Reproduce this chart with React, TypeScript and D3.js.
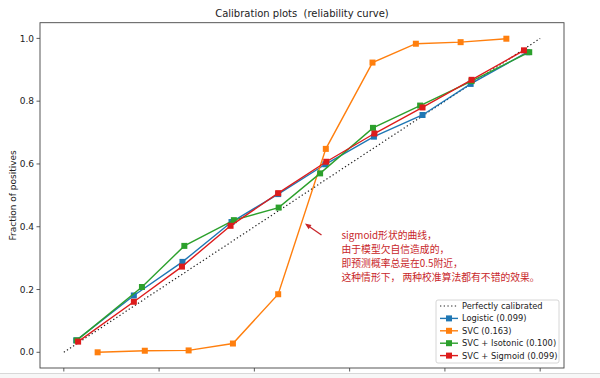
import React from "react";
import * as d3 from "d3";

const title = "Calibration plots  (reliability curve)";
const yLabel = "Fraction of positives";
const yTicks = [0.0, 0.2, 0.4, 0.6, 0.8, 1.0];
const xTicks = [0.0, 0.2, 0.4, 0.6, 0.8, 1.0];

const seriesNames = ["Logistic (0.099)", "SVC (0.163)", "SVC + Isotonic (0.100)", "SVC + Sigmoid (0.099)"];
const seriesColors = ["#1f77b4", "#ff7f0e", "#2ca02c", "#dd1c1c"];

const xLogistic = [0.026, 0.147, 0.249, 0.352, 0.45, 0.549, 0.651, 0.753, 0.854, 0.973];
const yLogistic = [0.038, 0.181, 0.288, 0.415, 0.504, 0.599, 0.687, 0.756, 0.855, 0.956];

const xSVC = [0.071, 0.17, 0.262, 0.355, 0.45, 0.55, 0.648, 0.739, 0.833, 0.929];
const ySVC = [0.0, 0.005, 0.006, 0.028, 0.185, 0.648, 0.923, 0.983, 0.988, 0.999];

const xIsotonic = [0.027, 0.164, 0.253, 0.357, 0.451, 0.538, 0.649, 0.748, 0.856, 0.977];
const yIsotonic = [0.038, 0.208, 0.339, 0.421, 0.461, 0.57, 0.715, 0.786, 0.864, 0.956];

const xSigmoid = [0.03, 0.147, 0.248, 0.35, 0.45, 0.551, 0.652, 0.753, 0.856, 0.966];
const ySigmoid = [0.034, 0.161, 0.273, 0.403, 0.507, 0.607, 0.697, 0.78, 0.868, 0.962];

const annotationLines = [
  "sigmoid形状的曲线，",
  "由于模型欠自信造成的，",
  "即预测概率总是在0.5附近，",
  "这种情形下， 两种校准算法都有不错的效果。",
];

const FONT = "DejaVu Sans, sans-serif";

export default function App() {
  const left = 40, right = 564, top = 22.7, bottom = 368;
  const x = d3.scaleLinear().domain([-0.05, 1.05]).range([left, right]);
  const y = d3.scaleLinear().domain([-0.05, 1.05]).range([bottom, top]);
  const line = d3.line<[number, number]>().x((d) => x(d[0])).y((d) => y(d[1]));

  const series = [
    { xs: xLogistic, ys: yLogistic },
    { xs: xSVC, ys: ySVC },
    { xs: xIsotonic, ys: yIsotonic },
    { xs: xSigmoid, ys: ySigmoid },
  ];

  const ms = 6;
  const legX = 436, legY = 300, legW = 123, legH = 63;
  const rowY = (i: number) => legY + 6 + i * 12.4;
  const annY = [235.5, 249.5, 263.5, 278];

  return (
    <div style={{ position: "fixed", left: 0, top: 0, width: 600, height: 378, background: "#fff" }}>
      <svg width={600} height={378} style={{ display: "block" }} fontFamily={FONT}>
        <rect x={0} y={0} width={600} height={378} fill="#fff" />
        <line x1={0} x2={600} y1={373.5} y2={373.5} stroke="#d8d8d8" strokeWidth={1} />
        <rect x={0} y={374} width={600} height={4} fill="#f7f7f7" />
        {/* title */}
        <text x={(left + right) / 2} y={17} textAnchor="middle" fontSize={10} fill="#222" style={{ whiteSpace: "pre" }}>
          {title}
        </text>
        {/* y label */}
        <text transform={`translate(16,${(top + bottom) / 2}) rotate(-90)`} textAnchor="middle" fontSize={9} fill="#222">
          {yLabel}
        </text>
        {/* y ticks */}
        {yTicks.map((t) => (
          <g key={"y" + t}>
            <line x1={left - 3.5} x2={left} y1={y(t)} y2={y(t)} stroke="#333" strokeWidth={0.8} />
            <text x={left - 6} y={y(t)} dy="0.35em" textAnchor="end" fontSize={9} fill="#222">
              {t.toFixed(1)}
            </text>
          </g>
        ))}
        {/* x ticks */}
        {xTicks.map((t) => (
          <line key={"x" + t} x1={x(t)} x2={x(t)} y1={bottom} y2={bottom + 3.5} stroke="#333" strokeWidth={0.8} />
        ))}
        {/* perfect line */}
        <path d={line([[0, 0], [1, 1]]) || ""} fill="none" stroke="#222" strokeWidth={1.2} strokeDasharray="1.3,2.4" />
        {series.map((s, i) => {
          const pts: [number, number][] = s.xs.map((v, j) => [v, s.ys[j]]);
          return (
            <g key={i}>
              <path d={line(pts) || ""} fill="none" stroke={seriesColors[i]} strokeWidth={1.4} />
              {pts.map((p, j) => (
                <rect key={j} x={x(p[0]) - ms / 2} y={y(p[1]) - ms / 2} width={ms} height={ms} fill={seriesColors[i]} />
              ))}
            </g>
          );
        })}
        {/* axes frame */}
        <rect x={left} y={top} width={right - left} height={bottom - top} fill="none" stroke="#444" strokeWidth={0.9} />
        {/* annotation arrow */}
        <line x1={321.5} y1={235} x2={307} y2={225} stroke="#c8262a" strokeWidth={1.3} />
        <path d="M305,223.6 L311.5,225 L308.6,229.2 Z" fill="#c8262a" />
        {annotationLines.map((t, i) => (
          <text key={i} x={341.5} y={annY[i]} dy="0.35em" fontSize={9.8} fill="#c8262a" fontFamily="Noto Sans CJK SC, DejaVu Sans, sans-serif" style={{ whiteSpace: "pre" }}>
            {t}
          </text>
        ))}
        {/* legend */}
        <rect x={legX} y={legY} width={legW} height={legH} rx={2} fill="#fff" fillOpacity={0.85} stroke="#ccc" strokeWidth={0.8} />
        <line x1={legX + 4} x2={legX + 22} y1={rowY(0)} y2={rowY(0)} stroke="#222" strokeWidth={1.2} strokeDasharray="1.3,2.4" />
        <text x={legX + 26} y={rowY(0)} dy="0.35em" fontSize={8.3} fill="#222">Perfectly calibrated</text>
        {seriesNames.map((n, i) => (
          <g key={n}>
            <line x1={legX + 4} x2={legX + 22} y1={rowY(i + 1)} y2={rowY(i + 1)} stroke={seriesColors[i]} strokeWidth={1.4} />
            <rect x={legX + 13 - ms / 2} y={rowY(i + 1) - ms / 2} width={ms} height={ms} fill={seriesColors[i]} />
            <text x={legX + 26} y={rowY(i + 1)} dy="0.35em" fontSize={8.3} fill="#222">{n}</text>
          </g>
        ))}
      </svg>
    </div>
  );
}
